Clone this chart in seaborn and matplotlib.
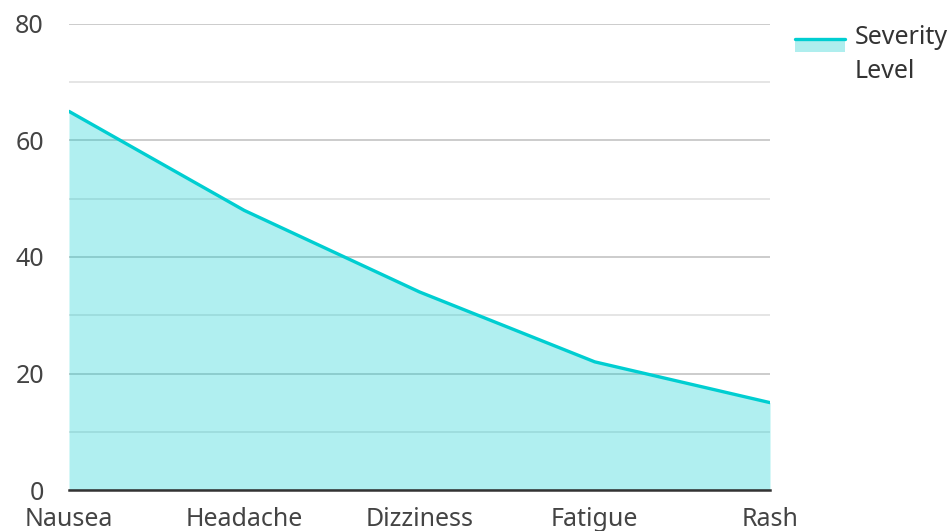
import matplotlib
matplotlib.use("Agg")
import matplotlib.pyplot as plt
import seaborn as sns
import pandas as pd
from matplotlib.patches import Rectangle
from matplotlib.lines import Line2D
from matplotlib.legend_handler import HandlerBase
from matplotlib.ticker import MultipleLocator

symptoms = ["Nausea", "Headache", "Dizziness", "Fatigue", "Rash"]
severity = [65, 48, 34, 22, 15]
series_name = "Severity\nLevel"

line_color = "#00CED1"
fill_color = "#AFEEEE"

df = pd.DataFrame({"symptom": symptoms, "severity": severity})
df["pos"] = range(len(df))

sns.set_style("white")
plt.rcParams['font.family'] = ['Noto Sans', 'DejaVu Sans']

fig = plt.figure(figsize=(9.51, 5.31), dpi=100)
ax = fig.add_axes([69 / 951, 1 - 490 / 531, 701 / 951, 466 / 531])

# grid first, area on top with some transparency so grid shows through
ax.set_ylim(0, 80)
ax.set_xlim(0, len(symptoms) - 1)
ax.yaxis.set_major_locator(MultipleLocator(20))
ax.yaxis.set_minor_locator(MultipleLocator(10))
ax.grid(axis="y", which="major", color="#c8c8c8", lw=1.3, zorder=0)
ax.grid(axis="y", which="minor", color="#e3e3e3", lw=1.3, zorder=0)
ax.set_axisbelow(True)

ax.fill_between(df["pos"], df["severity"], 0, color="#00CED1", alpha=0.31, lw=0, zorder=1)
sns.lineplot(data=df, x="pos", y="severity", color=line_color, lw=2.4, ax=ax, zorder=3,
             legend=False)

ax.set_xticks(df["pos"])
ax.set_xticklabels(symptoms)
ax.set_xlabel("")
ax.set_ylabel("")
ax.tick_params(axis="both", which="both", length=0, labelsize=18, colors="#444444")
ax.tick_params(axis="x", pad=12)
ax.tick_params(axis="y", pad=18)
for lab in ax.get_yticklabels():
    lab.set_verticalalignment("center_baseline")

for s in ["top", "right", "left"]:
    ax.spines[s].set_visible(False)
ax.spines["bottom"].set_color("#333333")
ax.spines["bottom"].set_linewidth(1.8)
ax.spines["bottom"].set_zorder(4)


class AreaHandler(HandlerBase):
    def create_artists(self, legend, orig_handle, xdescent, ydescent, width, height, fontsize, trans):
        top = -ydescent + height * 1.4
        patch = Rectangle((-xdescent, top - height * 0.7), width, height * 0.7,
                          fc=fill_color, ec="none", transform=trans)
        line = Line2D([-xdescent, -xdescent + width], [top, top], color=line_color,
                      lw=2.4, transform=trans)
        return [patch, line]


leg = fig.legend([Rectangle((0, 0), 1, 1)], [series_name], handler_map={Rectangle: AreaHandler()},
                 loc="upper left", bbox_to_anchor=(795 / 951, 1 - 25 / 531), frameon=False,
                 fontsize=18, handlelength=2.0, handletextpad=0.4, borderpad=0, borderaxespad=0)
for t in leg.get_texts():
    t.set_color("#333333")
    t.set_linespacing(1.45)

fig.savefig("out.png", dpi=100)
